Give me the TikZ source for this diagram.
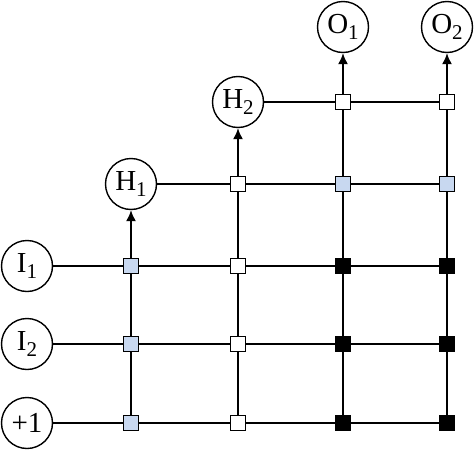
\documentclass[tikz,border=0pt]{standalone}
\usepackage{fontspec}
\setmainfont{Liberation Serif}
\usetikzlibrary{arrows.meta,backgrounds}
\definecolor{sqblue}{RGB}{200,216,240}
\newcommand{\lowsub}[1]{\raisebox{-0.4ex}{\fontsize{21}{21}\selectfont #1}}
\tikzset{
  unit/.style={circle,draw,line width=1.4pt,minimum size=51pt,inner sep=0pt,font=\fontsize{29}{34}\selectfont},
  sqw/.style={rectangle,draw,line width=1.1pt,minimum size=15pt,inner sep=0pt,fill=white},
  sqb/.style={sqw,fill=sqblue},
  sqk/.style={sqw,fill=black},
  wire/.style={line width=1.5pt},
  feed/.style={wire,-{Latex[length=11pt,width=10pt]}}
}
\begin{document}
\begin{tikzpicture}[x=1pt,y=-1pt]
\useasboundingbox (0,0) rectangle (474,450);
% units
\node[unit] (I1) at (27,266) {I\lowsub{1}};
\node[unit] (I2) at (27,344) {I\lowsub{2}};
\node[unit] (B) at (27,423) {+1};
\node[unit] (H1) at (131,184) {H\lowsub{1}};
\node[unit] (H2) at (238,102) {H\lowsub{2}};
\node[unit] (O1) at (343,27) {O\lowsub{1}};
\node[unit] (O2) at (447,27) {O\lowsub{2}};
% column 1
\node[sqb] (a1) at (131,266) {};
\node[sqb] (a2) at (131,344) {};
\node[sqb] (a3) at (131,423) {};
% column 2
\node[sqw] (b0) at (238,184) {};
\node[sqw] (b1) at (238,266) {};
\node[sqw] (b2) at (238,344) {};
\node[sqw] (b3) at (238,423) {};
% column 3
\node[sqw] (c5) at (343,102) {};
\node[sqb] (c0) at (343,184) {};
\node[sqk] (c1) at (343,266) {};
\node[sqk] (c2) at (343,344) {};
\node[sqk] (c3) at (343,423) {};
% column 4
\node[sqw] (d5) at (447,102) {};
\node[sqb] (d0) at (447,184) {};
\node[sqk] (d1) at (447,266) {};
\node[sqk] (d2) at (447,344) {};
\node[sqk] (d3) at (447,423) {};
\begin{scope}[on background layer]
  % horizontals
  \draw[wire] (I1) -- (d1.center);
  \draw[wire] (I2) -- (d2.center);
  \draw[wire] (B) -- (d3.center);
  \draw[wire] (H1) -- (d0.center);
  \draw[wire] (H2) -- (d5.center);
  % verticals
  \draw[wire] (a3.center) -- (a1.center);
  \draw[wire] (b3.center) -- (b0.center);
  \draw[wire] (c3.center) -- (c5.center);
  \draw[wire] (d3.center) -- (d5.center);
\end{scope}
% feeds
\draw[feed] (a1) -- (H1);
\draw[feed] (b0) -- (H2);
\draw[feed] (c5) -- (O1);
\draw[feed] (d5) -- (O2);
\end{tikzpicture}
\end{document}
